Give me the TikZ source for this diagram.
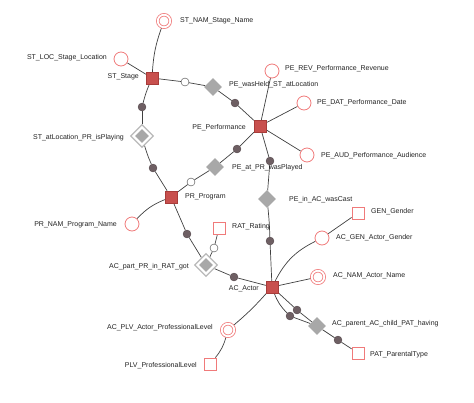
\documentclass[tikz,border=0pt]{standalone}
\usepackage{fontspec}
\setmainfont{Liberation Sans}
\usetikzlibrary{shapes.geometric,backgrounds}
\definecolor{redfill}{HTML}{C8504E}
\definecolor{redborder}{HTML}{A83C3A}
\definecolor{dotfill}{HTML}{6E5F63}
\definecolor{dotborder}{HTML}{4E4246}
\definecolor{dgray}{HTML}{A8A8A8}
\definecolor{pinkc}{HTML}{F07A7A}
\definecolor{linec}{HTML}{404040}
\definecolor{txtc}{HTML}{222222}
\begin{document}
\begin{tikzpicture}[x=1pt,y=-1pt,
  ent/.style={rectangle,fill=redfill,draw=redborder,line width=0.4pt,minimum size=12pt,inner sep=0pt},
  attr/.style={circle,draw=pinkc,fill=white,line width=0.8pt,minimum size=14pt,inner sep=0pt},
  keyattr/.style={circle,draw=pinkc,fill=white,line width=0.8pt,double=white,double distance=1.8pt,minimum size=12.5pt,inner sep=0pt},
  valbox/.style={rectangle,draw=pinkc,fill=white,line width=0.8pt,minimum size=12pt,inner sep=0pt},
  rel/.style={diamond,fill=dgray,draw=none,minimum size=18pt,inner sep=0pt},
  relout/.style={diamond,fill=white,draw=dgray!80,line width=1.2pt,minimum size=23pt,inner sep=0pt},
  relin/.style={diamond,fill=dgray,draw=none,minimum size=14pt,inner sep=0pt},
  mand/.style={circle,fill=dotfill,draw=dotborder,line width=0.3pt,minimum size=8pt,inner sep=0pt},
  opt/.style={circle,fill=white,draw=linec,line width=0.4pt,minimum size=8pt,inner sep=0pt},
  lab/.style={inner sep=0pt,font=\fontsize{7}{8}\selectfont,text=txtc},
  conn/.style={draw=linec,line width=0.7pt}]
\useasboundingbox (0,0) rectangle (474,402);
% nodes
\node[keyattr] (stnam) at (164,21) {};
\node[attr] (stloc) at (121,59) {};
\node[ent] (ststage) at (152,78) {};
\node[opt] (o1) at (185,82) {};
\node[rel] (pewasheld) at (213,87) {};
\node[mand] (m1) at (235,103) {};
\node[ent] (peperf) at (260,126) {};
\node[attr] (perev) at (272,71) {};
\node[attr] (pedat) at (304,103) {};
\node[attr] (peaud) at (307,155) {};
\node[mand] (m2) at (237,149) {};
\node[rel] (peatpr) at (215,167) {};
\node[opt] (o2) at (191,182) {};
\node[ent] (prprog) at (171,197) {};
\node[mand] (m3) at (270,161) {};
\node[rel] (peinac) at (267,199) {};
\node[mand] (m4) at (270,241) {};
\node[ent] (acactor) at (272,287) {};
\node[mand] (m5) at (142,107) {};
\node[relout] (stat) at (142,136) {};
\node[relin] (stati) at (142,136) {};
\node[mand] (m6) at (153,168) {};
\node[attr] (prnam) at (132,224) {};
\node[mand] (m7) at (187,234) {};
\node[relout] (acpart) at (206,265) {};
\node[relin] (acparti) at (206,265) {};
\node[opt] (o3) at (214,248) {};
\node[valbox] (rat) at (219,228) {};
\node[mand] (m8) at (234,277) {};
\node[valbox] (gen) at (358,213) {};
\node[attr] (acgen) at (322,238) {};
\node[keyattr] (acnam) at (318,277) {};
\node[mand] (m9) at (297,310) {};
\node[mand] (m10) at (290,316) {};
\node[rel] (acparent) at (317,326) {};
\node[mand] (m11) at (338,340) {};
\node[valbox] (pat) at (358,353) {};
\node[keyattr] (acplv) at (228,330) {};
\node[valbox] (plv) at (210,364) {};
% labels
\node[lab,anchor=west] (l1) at (180,21) {ST\_NAM\_Stage\_Name};
\node[lab,anchor=east] (l2) at (107,58) {ST\_LOC\_Stage\_Location};
\node[lab,anchor=east] (l3) at (139,77) {ST\_Stage};
\node[lab,anchor=west] (l4) at (229,85) {PE\_wasHeld\_ST\_atLocation};
\node[lab,anchor=west] (l5) at (285,69) {PE\_REV\_Performance\_Revenue};
\node[lab,anchor=west] (l6) at (317,103) {PE\_DAT\_Performance\_Date};
\node[lab,anchor=east] (l7) at (246,128) {PE\_Performance};
\node[lab,anchor=west] (l8) at (321,156) {PE\_AUD\_Performance\_Audience};
\node[lab,anchor=east] (l9) at (124,138) {ST\_atLocation\_PR\_isPlaying};
\node[lab,anchor=west] (l10) at (232,168) {PE\_at\_PR\_wasPlayed};
\node[lab,anchor=west] (l11) at (185,197) {PR\_Program};
\node[lab,anchor=west] (l12) at (289,200) {PE\_in\_AC\_wasCast};
\node[lab,anchor=east] (l13) at (117,225) {PR\_NAM\_Program\_Name};
\node[lab,anchor=west] (l14) at (232,227) {RAT\_Rating};
\node[lab,anchor=west] (l15) at (371,212) {GEN\_Gender};
\node[lab,anchor=west] (l16) at (336,238) {AC\_GEN\_Actor\_Gender};
\node[lab,anchor=east] (l17) at (189,267) {AC\_part\_PR\_in\_RAT\_got};
\node[lab,anchor=west] (l18) at (333,276) {AC\_NAM\_Actor\_Name};
\node[lab,anchor=east] (l19) at (259,289) {AC\_Actor};
\node[lab,anchor=west] (l20) at (332,324) {AC\_parent\_AC\_child\_PAT\_having};
\node[lab,anchor=east] (l21) at (213,328) {AC\_PLV\_Actor\_ProfessionalLevel};
\node[lab,anchor=west] (l22) at (370,355) {PAT\_ParentalType};
\node[lab,anchor=east] (l23) at (197,366) {PLV\_ProfessionalLevel};
% connectors
\begin{scope}[on background layer]
\draw[conn] (stnam) to[bend right=8] (ststage);
\draw[conn] (stloc) -- (ststage);
\draw[conn] (ststage) -- (o1) -- (pewasheld) -- (m1) -- (peperf);
\draw[conn] (ststage) to[bend right=4] (m5);
\draw[conn] (m5) -- (stat);
\draw[conn] (stat) to[bend right=4] (m6);
\draw[conn] (m6) -- (prprog);
\draw[conn] (peperf) -- (perev);
\draw[conn] (peperf) -- (pedat);
\draw[conn] (peperf) -- (peaud);
\draw[conn] (peperf) -- (m2) -- (peatpr) -- (o2) -- (prprog);
\draw[conn] (peperf) -- (m3) -- (peinac);
\draw[conn] (peinac) to[bend left=2] (m4);
\draw[conn] (m4) -- (acactor);
\draw[conn] (prprog) to[bend right=12] (prnam);
\draw[conn] (prprog) -- (m7) -- (acpart) -- (m8) -- (acactor);
\draw[conn] (acpart) -- (o3) -- (rat);
\draw[conn] (acactor) to[bend left=18] (acgen);
\draw[conn] (acgen) -- (gen);
\draw[conn] (acactor) -- (acnam);
\draw[conn] (acactor) -- (m9) -- (acparent);
\draw[conn] (acactor) to[bend right=12] (m10);
\draw[conn] (m10) -- (acparent);
\draw[conn] (acparent) -- (m11) -- (pat);
\draw[conn] (acactor) to[bend left=4] (acplv);
\draw[conn] (acplv) to[bend left=12] (plv);
\end{scope}
\end{tikzpicture}
\end{document}
